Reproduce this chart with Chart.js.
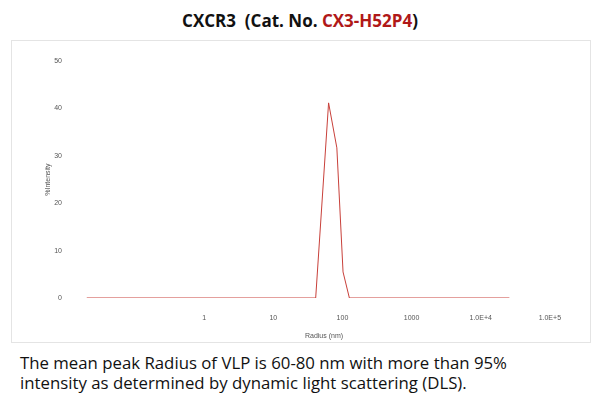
<!DOCTYPE html>
<html lang="en">
<head>
  <meta charset="UTF-8" />
  <script src="https://cdn.jsdelivr.net/npm/chart.js"></script>
  <style>
    body { margin: 0; width: 600px; height: 418px; background: #fff; font-family: "Open Sans", "Noto Sans", sans-serif; position: relative; }
    .title { position: absolute; top: 9px; left: 0; width: 600px; text-align: center; font-weight: bold; font-size: 17px; color: #111; }
    .title span { color: #b01818; }
    .box { position: absolute; left: 11px; top: 40px; width: 578px; height: 301px; border: 1px solid #e4e4e4; }
    .caption { position: absolute; left: 20px; top: 353px; font-size: 16.8px; line-height: 20px; color: #111; }
  </style>
</head>
<body>
  <div class="title">CXCR3&nbsp;&nbsp;(Cat. No. <span>CX3-H52P4</span>)</div>
  <div class="box"><canvas id="c" width="578" height="301"></canvas></div>
  <div class="caption">The mean peak Radius of VLP is 60-80 nm with more than 95%<br>intensity as determined by dynamic light scattering (DLS).</div>
  <script>
    // DLS size distribution
    const radius = [0.02, 41, 63, 83, 102, 126, 26000];
    const intensity = [0, 0, 41.2, 31.7, 5.5, 0, 0];
    const xTicks = [1, 10, 100, 1000, 10000, 100000];
    const xLabels = { 1: "1", 10: "10", 100: "100", 1000: "1000", 10000: "1.0E+4", 100000: "1.0E+5" };

    new Chart(document.getElementById("c"), {
      type: "scatter",
      data: {
        datasets: [{
          data: radius.map((r, i) => ({ x: r, y: intensity[i] })),
          showLine: true,
          borderColor: "#c8403a",
          borderWidth: 1,
          pointRadius: 0,
          tension: 0
        }]
      },
      options: {
        responsive: false,
        animation: false,
        layout: { padding: { top: 19, right: 28, left: 28, bottom: 0 } },
        plugins: { legend: { display: false }, tooltip: { enabled: false } },
        scales: {
          x: {
            type: "logarithmic",
            min: 0.0195, max: 150000,
            border: { display: false },
            grid: { display: false },
            afterBuildTicks: s => { s.ticks = xTicks.map(v => ({ value: v })); },
            afterFit: s => { s.height = 44; },
            ticks: { callback: v => xLabels[v] || "", font: { size: 7 }, color: "#555", maxRotation: 0, padding: 8 },
            title: { display: true, text: "Radius (nm)", font: { size: 7 }, color: "#555", padding: 2 }
          },
          y: {
            min: 0, max: 50,
            border: { display: false },
            grid: { display: false },
            afterFit: s => { s.width = 46; },
            ticks: { stepSize: 10, font: { size: 7 }, color: "#555", padding: 16 },
            title: { display: true, text: "%Intensity", font: { size: 7 }, color: "#555" }
          }
        }
      }
    });
  </script>
</body>
</html>
